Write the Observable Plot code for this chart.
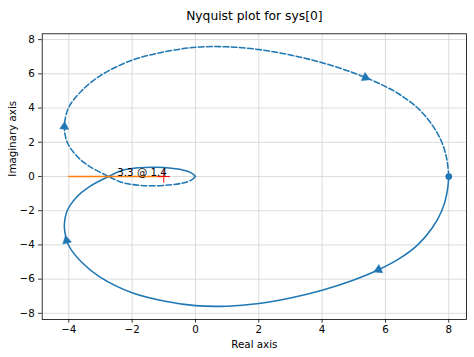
<!DOCTYPE html>
<html><head><meta charset="utf-8">
<script src="https://cdn.jsdelivr.net/npm/d3@7"></script>
<script src="https://cdn.jsdelivr.net/npm/@observablehq/plot@0.6"></script>
<style>body{margin:0;background:#fff}</style>
</head><body><div id="chart"></div>
<script>
// tick values
const xTicks = [-4, -2, 0, 2, 4, 6, 8];
const yTicks = [-8, -6, -4, -2, 0, 2, 4, 6, 8];

// Nyquist curve, positive frequencies (solid)
const posRe = [8.00, 7.94, 7.78, 7.48, 7.02, 6.40, 5.75, 5.00, 4.00, 3.00, 2.00, 1.00, 0.00, -1.00, -2.00, -3.00, -3.60, -4.00, -4.12, -4.14, -4.05, -3.75, -3.37, -2.74, -2.30, -1.80, -1.25, -0.75, -0.40, -0.12, 0.00];
const posIm = [0.00, -1.00, -2.00, -3.00, -4.00, -4.85, -5.48, -6.05, -6.65, -7.10, -7.42, -7.58, -7.55, -7.28, -6.80, -5.90, -5.00, -4.05, -3.30, -2.80, -2.00, -1.20, -0.62, 0.00, 0.36, 0.51, 0.54, 0.48, 0.38, 0.20, 0.00];

// Mirror branch, negative frequencies (dashed)
const negRe = [8.00, 7.94, 7.78, 7.48, 7.02, 6.40, 5.75, 5.00, 4.00, 3.00, 2.00, 1.00, 0.00, -1.00, -2.00, -3.00, -3.60, -4.00, -4.12, -4.14, -4.05, -3.75, -3.37, -2.74, -2.30, -1.80, -1.25, -0.75, -0.40, -0.12, 0.00];
const negIm = [0.00, 1.00, 2.00, 3.00, 4.00, 4.85, 5.48, 6.05, 6.65, 7.10, 7.42, 7.58, 7.55, 7.28, 6.80, 5.90, 5.00, 4.05, 3.30, 2.80, 2.00, 1.20, 0.62, 0.00, -0.36, -0.51, -0.54, -0.48, -0.38, -0.20, 0.00];

// direction arrows on the curve
const arrowRe = [5.78, -4.07, 5.37, -4.14];
const arrowIm = [-5.45, -3.74, 5.78, 2.92];
const arrowAngle = [-115, -12, 114, 4];

// extra line, critical point and label
const lineRe = [-4, -1];
const lineIm = [0, 0];
const critRe = [-1];
const critIm = [0];
const labelText = ["3.3 @ 1.4"];
const labelRe = [-2.47];
const labelIm = [0];

const pos = posRe.map((r, i) => ({re: r, im: posIm[i]}));
const neg = negRe.map((r, i) => ({re: r, im: negIm[i]}));
const arrows = arrowRe.map((r, i) => ({re: r, im: arrowIm[i], a: arrowAngle[i]}));
const hline = lineRe.map((r, i) => ({re: r, im: lineIm[i]}));
const crit = critRe.map((r, i) => ({re: r, im: critIm[i]}));
const labels = labelText.map((t, i) => ({t, re: labelRe[i], im: labelIm[i]}));

const C0 = "#1f77b4", C1 = "#ff7f0e";
const fmt = d3.format("d");

const chart = Plot.plot({
  width: 474,
  height: 357,
  marginLeft: 41.7,
  marginRight: 8,
  marginTop: 33.3,
  marginBottom: 38,
  style: {fontFamily: "DejaVu Sans", fontSize: "10.3px", background: "white", color: "black"},
  x: {domain: [-4.84, 8.56]},
  y: {domain: [-8.36, 8.34]},
  marks: [
    Plot.gridX(xTicks, {stroke: "#d3d3d3", strokeOpacity: 1, strokeWidth: 0.8}),
    Plot.gridY(yTicks, {stroke: "#d3d3d3", strokeOpacity: 1, strokeWidth: 0.8}),
    Plot.line(pos, {x: "re", y: "im", stroke: C0, strokeWidth: 1.55, curve: "catmull-rom"}),
    Plot.line(neg, {x: "re", y: "im", stroke: C0, strokeWidth: 1.55, curve: "catmull-rom", strokeDasharray: "5.7,2.5"}),
    Plot.dot(arrows, {x: "re", y: "im", rotate: "a", symbol: "triangle", r: 3.3, fill: C0, stroke: C0, strokeWidth: 0.5}),
    Plot.dot(pos.slice(0, 1), {x: "re", y: "im", r: 2.6, fill: C0, stroke: C0}),
    Plot.line(hline, {x: "re", y: "im", stroke: C1, strokeWidth: 1.55}),
    Plot.dot(crit, {x: "re", y: "im", symbol: "plus", r: 4, stroke: "red", strokeWidth: 1}),
    Plot.text(labels, {x: "re", y: "im", text: "t", textAnchor: "start", lineAnchor: "bottom", fontSize: 10.3, fill: "black"}),
    Plot.frame({stroke: "black", strokeWidth: 0.8}),
    Plot.axisX(xTicks, {anchor: "bottom", tickSize: 3.6, tickPadding: 3, fontSize: 10.3, tickFormat: fmt, label: null, strokeWidth: 0.8}),
    Plot.axisY(yTicks, {anchor: "left", tickSize: 3.6, tickPadding: 3.8, fontSize: 10.3, tickFormat: fmt, label: null, strokeWidth: 0.8}),
    Plot.text(["Nyquist plot for sys[0]"], {frameAnchor: "top", dy: -14.3, lineAnchor: "bottom", fontSize: 12.3, fill: "black"}),
    Plot.text(["Real axis"], {frameAnchor: "bottom", dy: 28, lineAnchor: "bottom", fontSize: 10.3, fill: "black"}),
    Plot.text(["Imaginary axis"], {frameAnchor: "left", dx: -29.5, rotate: -90, lineAnchor: "middle", fontSize: 10.3, fill: "black"})
  ]
});
document.getElementById("chart").appendChild(chart);
</script>
</body></html>
